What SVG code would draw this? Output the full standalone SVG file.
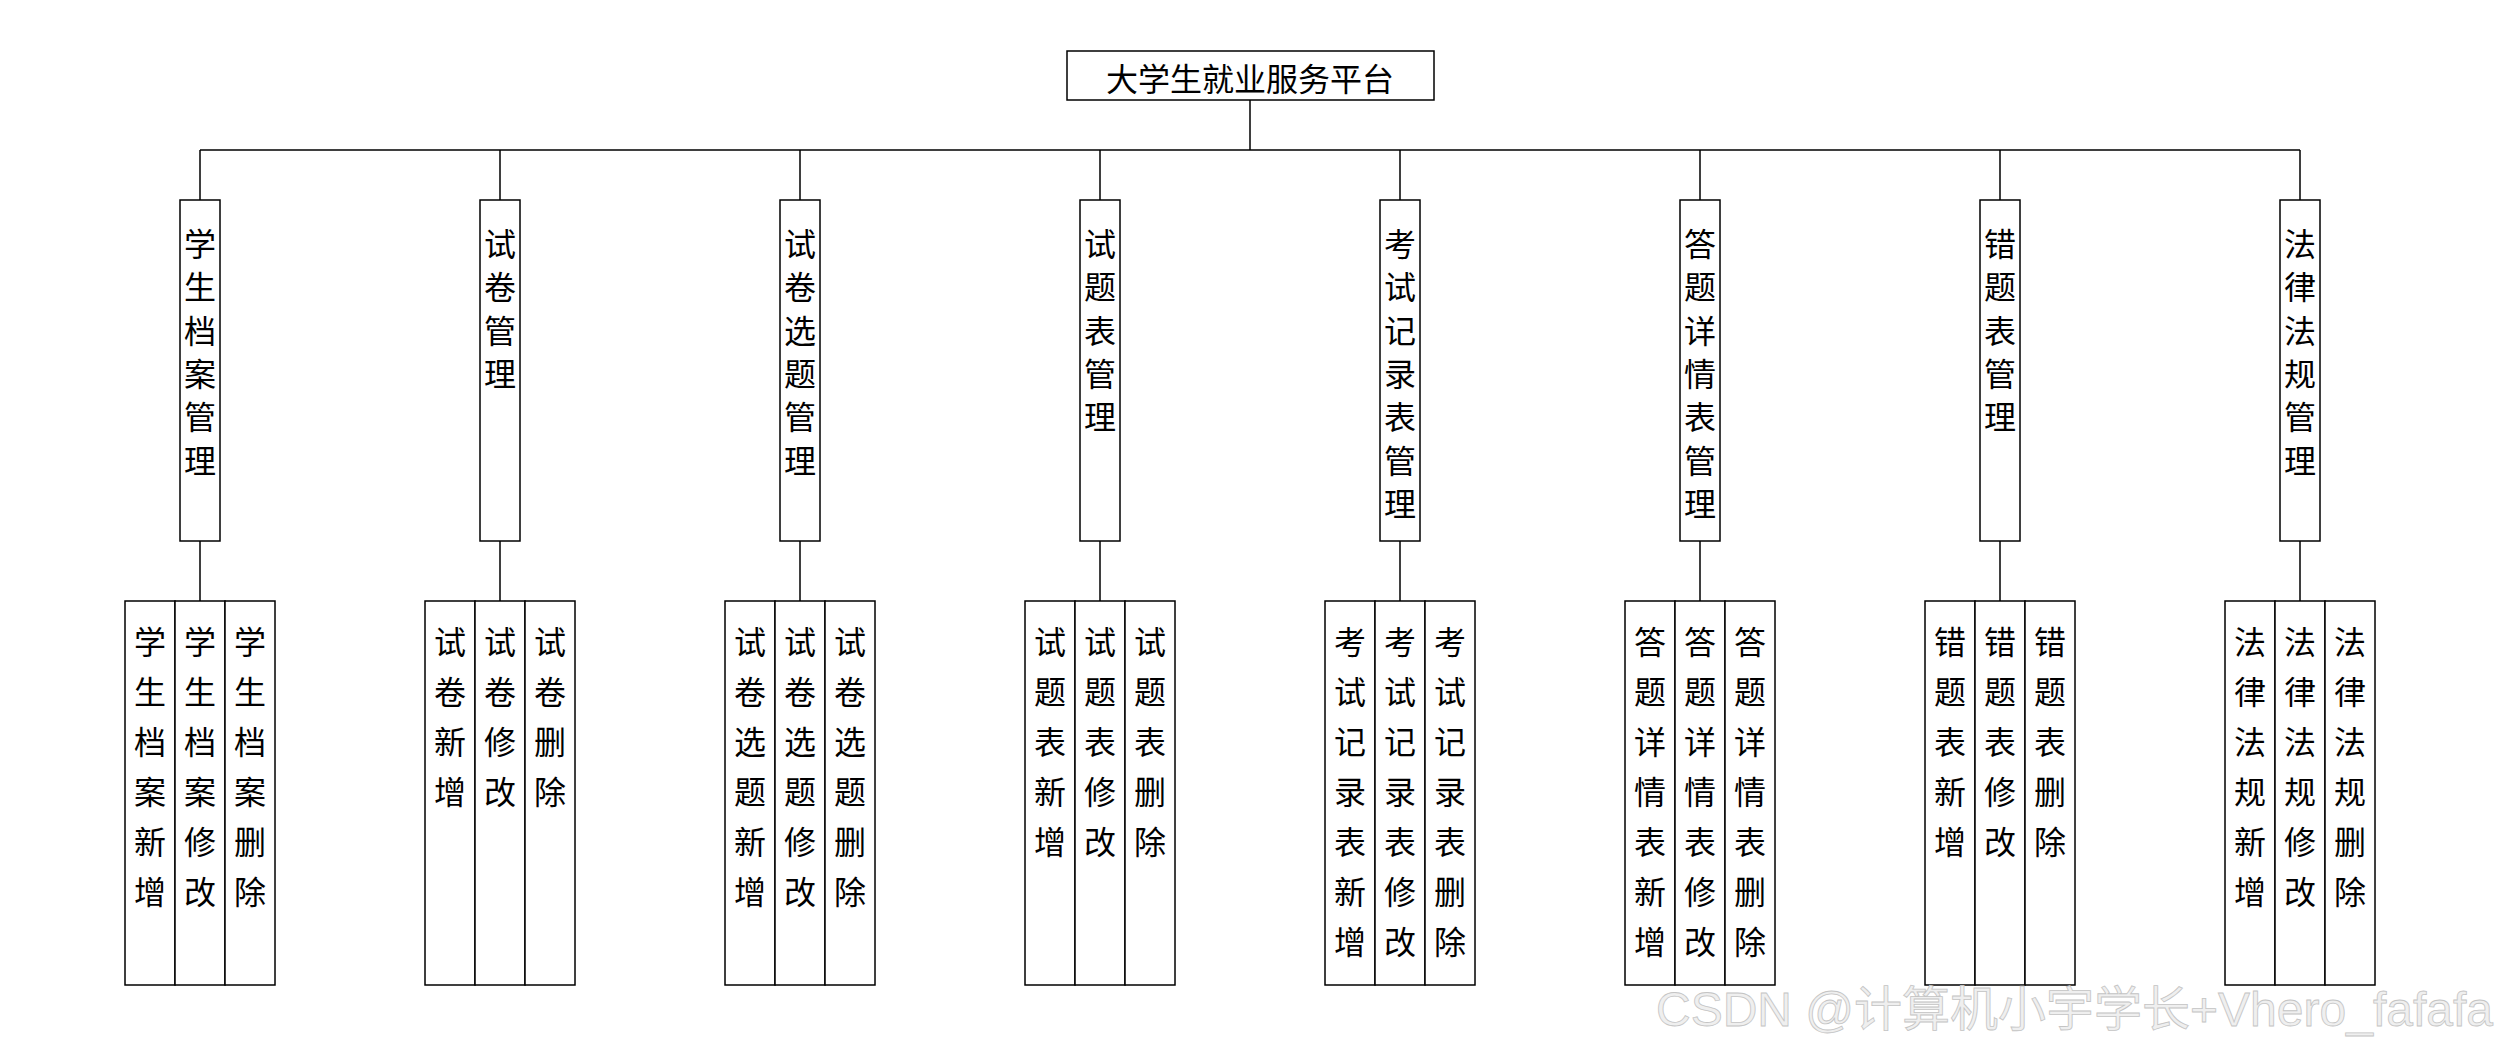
<svg xmlns="http://www.w3.org/2000/svg" width="2500" height="1050" viewBox="0 0 2500 1050">
<style>
.box{fill:#fff;stroke:#000;stroke-width:1.5}
.ln{fill:none;stroke:#000;stroke-width:1.5}
.t{font-family:"Noto Sans CJK SC","Noto Sans CJK JP",sans-serif;font-size:32px;fill:#000;text-anchor:middle;dominant-baseline:central}
.root{font-size:32px}
.wm{font-family:"Liberation Sans","Noto Sans CJK SC",sans-serif;font-size:48px;fill:#efefef;stroke:#c4c4c4;stroke-width:0.8}
</style>
<rect width="2500" height="1050" fill="#fff"/>
<g id="connectors">
<path class="ln" d="M1250 100V150M200 150H2300"/>
<path class="ln" d="M200 150V200M500 150V200M800 150V200M1100 150V200M1400 150V200M1700 150V200M2000 150V200M2300 150V200"/>
<path class="ln" d="M200 541V601M500 541V601M800 541V601M1100 541V601M1400 541V601M1700 541V601M2000 541V601M2300 541V601"/>
</g>
<g id="root">
<rect class="box" x="1067" y="51" width="367" height="49"/>
<text class="t root" x="1250" y="77">大学生就业服务平台</text>
</g>

<g id="n1">
<rect class="box" x="180" y="200" width="40" height="341"/>
<text class="t"><tspan x="200" y="242">学</tspan><tspan x="200" y="285.3">生</tspan><tspan x="200" y="328.7">档</tspan><tspan x="200" y="372">案</tspan><tspan x="200" y="415.3">管</tspan><tspan x="200" y="458.7">理</tspan></text>
</g>
<g id="n1a"><rect class="box" x="125" y="601" width="50" height="384"/>
<text class="t"><tspan x="150" y="640">学</tspan><tspan x="150" y="690">生</tspan><tspan x="150" y="740">档</tspan><tspan x="150" y="790">案</tspan><tspan x="150" y="840">新</tspan><tspan x="150" y="890">增</tspan></text></g>
<g id="n1b"><rect class="box" x="175" y="601" width="50" height="384"/>
<text class="t"><tspan x="200" y="640">学</tspan><tspan x="200" y="690">生</tspan><tspan x="200" y="740">档</tspan><tspan x="200" y="790">案</tspan><tspan x="200" y="840">修</tspan><tspan x="200" y="890">改</tspan></text></g>
<g id="n1c"><rect class="box" x="225" y="601" width="50" height="384"/>
<text class="t"><tspan x="250" y="640">学</tspan><tspan x="250" y="690">生</tspan><tspan x="250" y="740">档</tspan><tspan x="250" y="790">案</tspan><tspan x="250" y="840">删</tspan><tspan x="250" y="890">除</tspan></text></g>

<g id="n2">
<rect class="box" x="480" y="200" width="40" height="341"/>
<text class="t"><tspan x="500" y="242">试</tspan><tspan x="500" y="285.3">卷</tspan><tspan x="500" y="328.7">管</tspan><tspan x="500" y="372">理</tspan></text>
</g>
<g id="n2a"><rect class="box" x="425" y="601" width="50" height="384"/>
<text class="t"><tspan x="450" y="640">试</tspan><tspan x="450" y="690">卷</tspan><tspan x="450" y="740">新</tspan><tspan x="450" y="790">增</tspan></text></g>
<g id="n2b"><rect class="box" x="475" y="601" width="50" height="384"/>
<text class="t"><tspan x="500" y="640">试</tspan><tspan x="500" y="690">卷</tspan><tspan x="500" y="740">修</tspan><tspan x="500" y="790">改</tspan></text></g>
<g id="n2c"><rect class="box" x="525" y="601" width="50" height="384"/>
<text class="t"><tspan x="550" y="640">试</tspan><tspan x="550" y="690">卷</tspan><tspan x="550" y="740">删</tspan><tspan x="550" y="790">除</tspan></text></g>

<g id="n3">
<rect class="box" x="780" y="200" width="40" height="341"/>
<text class="t"><tspan x="800" y="242">试</tspan><tspan x="800" y="285.3">卷</tspan><tspan x="800" y="328.7">选</tspan><tspan x="800" y="372">题</tspan><tspan x="800" y="415.3">管</tspan><tspan x="800" y="458.7">理</tspan></text>
</g>
<g id="n3a"><rect class="box" x="725" y="601" width="50" height="384"/>
<text class="t"><tspan x="750" y="640">试</tspan><tspan x="750" y="690">卷</tspan><tspan x="750" y="740">选</tspan><tspan x="750" y="790">题</tspan><tspan x="750" y="840">新</tspan><tspan x="750" y="890">增</tspan></text></g>
<g id="n3b"><rect class="box" x="775" y="601" width="50" height="384"/>
<text class="t"><tspan x="800" y="640">试</tspan><tspan x="800" y="690">卷</tspan><tspan x="800" y="740">选</tspan><tspan x="800" y="790">题</tspan><tspan x="800" y="840">修</tspan><tspan x="800" y="890">改</tspan></text></g>
<g id="n3c"><rect class="box" x="825" y="601" width="50" height="384"/>
<text class="t"><tspan x="850" y="640">试</tspan><tspan x="850" y="690">卷</tspan><tspan x="850" y="740">选</tspan><tspan x="850" y="790">题</tspan><tspan x="850" y="840">删</tspan><tspan x="850" y="890">除</tspan></text></g>

<g id="n4">
<rect class="box" x="1080" y="200" width="40" height="341"/>
<text class="t"><tspan x="1100" y="242">试</tspan><tspan x="1100" y="285.3">题</tspan><tspan x="1100" y="328.7">表</tspan><tspan x="1100" y="372">管</tspan><tspan x="1100" y="415.3">理</tspan></text>
</g>
<g id="n4a"><rect class="box" x="1025" y="601" width="50" height="384"/>
<text class="t"><tspan x="1050" y="640">试</tspan><tspan x="1050" y="690">题</tspan><tspan x="1050" y="740">表</tspan><tspan x="1050" y="790">新</tspan><tspan x="1050" y="840">增</tspan></text></g>
<g id="n4b"><rect class="box" x="1075" y="601" width="50" height="384"/>
<text class="t"><tspan x="1100" y="640">试</tspan><tspan x="1100" y="690">题</tspan><tspan x="1100" y="740">表</tspan><tspan x="1100" y="790">修</tspan><tspan x="1100" y="840">改</tspan></text></g>
<g id="n4c"><rect class="box" x="1125" y="601" width="50" height="384"/>
<text class="t"><tspan x="1150" y="640">试</tspan><tspan x="1150" y="690">题</tspan><tspan x="1150" y="740">表</tspan><tspan x="1150" y="790">删</tspan><tspan x="1150" y="840">除</tspan></text></g>

<g id="n5">
<rect class="box" x="1380" y="200" width="40" height="341"/>
<text class="t"><tspan x="1400" y="242">考</tspan><tspan x="1400" y="285.3">试</tspan><tspan x="1400" y="328.7">记</tspan><tspan x="1400" y="372">录</tspan><tspan x="1400" y="415.3">表</tspan><tspan x="1400" y="458.7">管</tspan><tspan x="1400" y="502">理</tspan></text>
</g>
<g id="n5a"><rect class="box" x="1325" y="601" width="50" height="384"/>
<text class="t"><tspan x="1350" y="640">考</tspan><tspan x="1350" y="690">试</tspan><tspan x="1350" y="740">记</tspan><tspan x="1350" y="790">录</tspan><tspan x="1350" y="840">表</tspan><tspan x="1350" y="890">新</tspan><tspan x="1350" y="940">增</tspan></text></g>
<g id="n5b"><rect class="box" x="1375" y="601" width="50" height="384"/>
<text class="t"><tspan x="1400" y="640">考</tspan><tspan x="1400" y="690">试</tspan><tspan x="1400" y="740">记</tspan><tspan x="1400" y="790">录</tspan><tspan x="1400" y="840">表</tspan><tspan x="1400" y="890">修</tspan><tspan x="1400" y="940">改</tspan></text></g>
<g id="n5c"><rect class="box" x="1425" y="601" width="50" height="384"/>
<text class="t"><tspan x="1450" y="640">考</tspan><tspan x="1450" y="690">试</tspan><tspan x="1450" y="740">记</tspan><tspan x="1450" y="790">录</tspan><tspan x="1450" y="840">表</tspan><tspan x="1450" y="890">删</tspan><tspan x="1450" y="940">除</tspan></text></g>

<g id="n6">
<rect class="box" x="1680" y="200" width="40" height="341"/>
<text class="t"><tspan x="1700" y="242">答</tspan><tspan x="1700" y="285.3">题</tspan><tspan x="1700" y="328.7">详</tspan><tspan x="1700" y="372">情</tspan><tspan x="1700" y="415.3">表</tspan><tspan x="1700" y="458.7">管</tspan><tspan x="1700" y="502">理</tspan></text>
</g>
<g id="n6a"><rect class="box" x="1625" y="601" width="50" height="384"/>
<text class="t"><tspan x="1650" y="640">答</tspan><tspan x="1650" y="690">题</tspan><tspan x="1650" y="740">详</tspan><tspan x="1650" y="790">情</tspan><tspan x="1650" y="840">表</tspan><tspan x="1650" y="890">新</tspan><tspan x="1650" y="940">增</tspan></text></g>
<g id="n6b"><rect class="box" x="1675" y="601" width="50" height="384"/>
<text class="t"><tspan x="1700" y="640">答</tspan><tspan x="1700" y="690">题</tspan><tspan x="1700" y="740">详</tspan><tspan x="1700" y="790">情</tspan><tspan x="1700" y="840">表</tspan><tspan x="1700" y="890">修</tspan><tspan x="1700" y="940">改</tspan></text></g>
<g id="n6c"><rect class="box" x="1725" y="601" width="50" height="384"/>
<text class="t"><tspan x="1750" y="640">答</tspan><tspan x="1750" y="690">题</tspan><tspan x="1750" y="740">详</tspan><tspan x="1750" y="790">情</tspan><tspan x="1750" y="840">表</tspan><tspan x="1750" y="890">删</tspan><tspan x="1750" y="940">除</tspan></text></g>

<g id="n7">
<rect class="box" x="1980" y="200" width="40" height="341"/>
<text class="t"><tspan x="2000" y="242">错</tspan><tspan x="2000" y="285.3">题</tspan><tspan x="2000" y="328.7">表</tspan><tspan x="2000" y="372">管</tspan><tspan x="2000" y="415.3">理</tspan></text>
</g>
<g id="n7a"><rect class="box" x="1925" y="601" width="50" height="384"/>
<text class="t"><tspan x="1950" y="640">错</tspan><tspan x="1950" y="690">题</tspan><tspan x="1950" y="740">表</tspan><tspan x="1950" y="790">新</tspan><tspan x="1950" y="840">增</tspan></text></g>
<g id="n7b"><rect class="box" x="1975" y="601" width="50" height="384"/>
<text class="t"><tspan x="2000" y="640">错</tspan><tspan x="2000" y="690">题</tspan><tspan x="2000" y="740">表</tspan><tspan x="2000" y="790">修</tspan><tspan x="2000" y="840">改</tspan></text></g>
<g id="n7c"><rect class="box" x="2025" y="601" width="50" height="384"/>
<text class="t"><tspan x="2050" y="640">错</tspan><tspan x="2050" y="690">题</tspan><tspan x="2050" y="740">表</tspan><tspan x="2050" y="790">删</tspan><tspan x="2050" y="840">除</tspan></text></g>

<g id="n8">
<rect class="box" x="2280" y="200" width="40" height="341"/>
<text class="t"><tspan x="2300" y="242">法</tspan><tspan x="2300" y="285.3">律</tspan><tspan x="2300" y="328.7">法</tspan><tspan x="2300" y="372">规</tspan><tspan x="2300" y="415.3">管</tspan><tspan x="2300" y="458.7">理</tspan></text>
</g>
<g id="n8a"><rect class="box" x="2225" y="601" width="50" height="384"/>
<text class="t"><tspan x="2250" y="640">法</tspan><tspan x="2250" y="690">律</tspan><tspan x="2250" y="740">法</tspan><tspan x="2250" y="790">规</tspan><tspan x="2250" y="840">新</tspan><tspan x="2250" y="890">增</tspan></text></g>
<g id="n8b"><rect class="box" x="2275" y="601" width="50" height="384"/>
<text class="t"><tspan x="2300" y="640">法</tspan><tspan x="2300" y="690">律</tspan><tspan x="2300" y="740">法</tspan><tspan x="2300" y="790">规</tspan><tspan x="2300" y="840">修</tspan><tspan x="2300" y="890">改</tspan></text></g>
<g id="n8c"><rect class="box" x="2325" y="601" width="50" height="384"/>
<text class="t"><tspan x="2350" y="640">法</tspan><tspan x="2350" y="690">律</tspan><tspan x="2350" y="740">法</tspan><tspan x="2350" y="790">规</tspan><tspan x="2350" y="840">删</tspan><tspan x="2350" y="890">除</tspan></text></g>

<text class="wm" x="1656" y="1026">CSDN @计算机小宇学长+Vhero_fafafa</text>
</svg>
